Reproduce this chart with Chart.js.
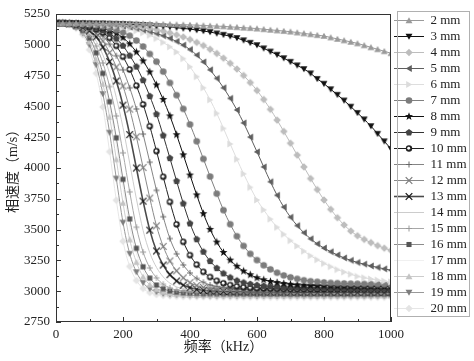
<!DOCTYPE html>
<html>
<head>
<meta charset="utf-8">
<script src="https://cdn.jsdelivr.net/npm/chart.js@4.4.0/dist/chart.umd.min.js"></script>
<style>
  html, body { margin: 0; padding: 0; background: #fff; }
</style>
</head>
<body>
<canvas id="myChart" width="474" height="361"></canvas>
<script>
// frequency (kHz), one sample every 20 kHz
var freq = [0,20,40,60,80,100,120,140,160,180,200,220,240,260,280,300,320,340,360,380,400,420,440,460,480,500,520,540,560,580,600,620,640,660,680,700,720,740,760,780,800,820,840,860,880,900,920,940,960,980,1000];

// phase velocity (m/s) per plate thickness
var v2 = [5175,5175,5175,5175,5175,5174,5174,5173,5173,5172,5172,5171,5170,5170,5169,5168,5166,5165,5163,5162,5160,5158,5155,5153,5150,5148,5144,5141,5137,5134,5130,5125,5120,5115,5110,5105,5098,5091,5084,5077,5070,5058,5046,5034,5022,5010,4994,4978,4962,4946,4930];
var v3 = [5175,5175,5175,5175,5174,5173,5172,5172,5170,5169,5168,5165,5162,5160,5157,5152,5148,5144,5138,5131,5126,5118,5110,5102,5091,5080,5068,5054,5035,5015,4996,4970,4944,4918,4890,4861,4832,4802,4767,4722,4683,4638,4593,4547,4497,4446,4394,4339,4277,4216,4154];
var v4 = [5175,5175,5175,5174,5173,5172,5170,5168,5165,5162,5158,5153,5147,5140,5132,5122,5110,5096,5080,5062,5042,5018,4992,4962,4928,4890,4848,4802,4750,4692,4628,4555,4475,4388,4296,4200,4104,4008,3914,3824,3740,3664,3596,3537,3488,3450,3420,3394,3370,3349,3330];
var v5 = [5175,5175,5174,5174,5172,5170,5167,5163,5159,5155,5150,5142,5132,5120,5106,5090,5072,5051,5026,4996,4960,4915,4860,4796,4726,4650,4564,4470,4365,4250,4130,4008,3888,3778,3682,3600,3532,3474,3425,3384,3350,3320,3294,3270,3250,3233,3219,3205,3193,3181,3170];
var v6 = [5175,5175,5174,5173,5171,5168,5164,5160,5155,5148,5140,5128,5113,5096,5075,5050,5018,4982,4940,4886,4820,4740,4650,4552,4442,4320,4194,4070,3952,3842,3740,3660,3584,3518,3461,3410,3366,3324,3287,3255,3225,3199,3175,3155,3137,3120,3109,3099,3090,3082,3075];
var v7 = [5175,5175,5173,5172,5168,5164,5157,5147,5134,5119,5099,5072,5033,4985,4924,4862,4781,4690,4590,4479,4353,4216,4073,3930,3791,3657,3543,3446,3367,3303,3252,3210,3177,3150,3128,3112,3100,3089,3081,3076,3071,3067,3065,3063,3061,3060,3059,3058,3057,3056,3055];
var v8 = [5175,5175,5173,5170,5165,5158,5148,5134,5116,5091,5056,5006,4940,4868,4778,4673,4555,4422,4269,4106,3942,3781,3629,3501,3398,3314,3252,3202,3163,3133,3108,3092,3079,3070,3062,3056,3052,3049,3047,3046,3044,3043,3042,3041,3040,3039,3039,3038,3038,3037,3037];
var v9 = [5175,5174,5172,5169,5162,5153,5137,5118,5091,5049,4991,4911,4822,4711,4582,4436,4263,4079,3893,3711,3549,3421,3320,3244,3187,3144,3111,3086,3070,3058,3049,3043,3039,3036,3033,3032,3030,3029,3028,3027,3026,3026,3025,3025,3024,3024,3023,3023,3023,3022,3022];
var v10 = [5175,5174,5172,5167,5158,5144,5125,5097,5054,4990,4902,4798,4667,4515,4338,4136,3928,3724,3542,3400,3292,3215,3157,3115,3084,3064,3050,3039,3032,3027,3024,3022,3020,3019,3017,3016,3016,3015,3015,3014,3014,3013,3013,3013,3012,3012,3012,3011,3011,3011,3010];
var v11 = [5175,5174,5171,5165,5153,5135,5109,5069,5003,4910,4796,4650,4478,4274,4046,3818,3604,3427,3303,3213,3148,3103,3072,3051,3038,3028,3022,3018,3014,3012,3011,3009,3008,3008,3007,3007,3006,3006,3005,3005,3005,3004,3004,3004,3003,3003,3003,3003,3002,3002,3002];
var v12 = [5175,5174,5170,5162,5147,5125,5090,5029,4935,4818,4664,4477,4252,4003,3755,3530,3363,3245,3165,3108,3069,3046,3030,3020,3013,3008,3006,3003,3002,3000,3000,2999,2999,2999,2998,2998,2998,2997,2997,2997,2997,2996,2996,2996,2996,2996,2995,2995,2995,2995,2995];
var v13 = [5175,5174,5169,5159,5140,5112,5063,4980,4862,4705,4509,4270,3999,3730,3495,3326,3212,3134,3083,3049,3029,3015,3007,3002,3000,2997,2996,2995,2995,2994,2994,2994,2993,2993,2993,2993,2992,2992,2992,2992,2992,2991,2991,2991,2991,2991,2991,2990,2990,2990,2990];
var v14 = [5175,5173,5168,5156,5133,5096,5028,4916,4768,4572,4327,4039,3749,3493,3311,3193,3116,3065,3035,3017,3006,3000,2996,2994,2992,2990,2990,2989,2989,2988,2988,2988,2987,2987,2987,2987,2986,2986,2986,2986,2986,2986,2986,2985,2985,2985,2985,2985,2985,2985,2985];
var v15 = [5175,5173,5167,5152,5124,5078,4988,4851,4660,4422,4122,3806,3519,3317,3189,3108,3056,3027,3009,3000,2994,2991,2989,2987,2985,2985,2984,2984,2984,2983,2983,2983,2982,2982,2982,2982,2981,2981,2981,2981,2981,2981,2980,2980,2980,2980,2980,2980,2980,2980,2980];
var v16 = [5175,5173,5165,5147,5114,5053,4934,4767,4537,4244,3907,3586,3348,3198,3106,3050,3020,3002,2992,2987,2984,2982,2980,2980,2979,2979,2979,2978,2978,2978,2977,2977,2977,2977,2977,2976,2976,2976,2976,2976,2976,2976,2975,2975,2975,2975,2975,2975,2975,2975,2975];
var v17 = [5175,5173,5165,5146,5111,5043,4916,4740,4496,4187,3842,3524,3303,3167,3085,3036,3009,2994,2986,2982,2979,2976,2975,2975,2974,2974,2973,2973,2973,2972,2972,2972,2972,2971,2971,2971,2971,2971,2971,2970,2970,2970,2970,2970,2970,2970,2970,2970,2970,2970,2970];
var v18 = [5175,5173,5164,5143,5103,5024,4883,4681,4413,4069,3715,3419,3235,3117,3052,3015,2994,2983,2978,2975,2972,2970,2970,2969,2969,2968,2968,2968,2967,2967,2967,2967,2966,2966,2966,2966,2966,2966,2965,2965,2965,2965,2965,2965,2965,2965,2965,2965,2965,2965,2965];
var v19 = [5175,5173,5163,5138,5092,4997,4835,4599,4286,3914,3557,3304,3155,3068,3020,2994,2980,2974,2970,2968,2966,2964,2964,2963,2963,2963,2962,2962,2962,2962,2961,2961,2961,2961,2961,2961,2961,2961,2960,2960,2960,2960,2960,2960,2960,2960,2960,2960,2960,2960,2960];
var v20 = [5175,5172,5161,5132,5080,4958,4767,4494,4132,3738,3405,3201,3087,3022,2989,2973,2965,2961,2958,2956,2955,2954,2953,2953,2952,2952,2952,2951,2951,2951,2951,2950,2950,2950,2950,2950,2950,2950,2950,2950,2950,2950,2950,2950,2950,2950,2950,2950,2950,2950,2950];

var seriesNames = ['2 mm','3 mm','4 mm','5 mm','6 mm','7 mm','8 mm','9 mm','10 mm','11 mm','12 mm','13 mm','14 mm','15 mm','16 mm','17 mm','18 mm','19 mm','20 mm'];
var seriesValues = [v2,v3,v4,v5,v6,v7,v8,v9,v10,v11,v12,v13,v14,v15,v16,v17,v18,v19,v20];

// look of each series: line colour/width and marker
var looks = [
  {line:'#9a9a9a', w:1,   shape:'up',      r:4,   fill:'#9a9a9a'},
  {line:'#111111', w:1,   shape:'down',    r:4,   fill:'#111111'},
  {line:'#bdbdbd', w:1,   shape:'diamond', r:3.8, fill:'#bdbdbd'},
  {line:'#5e5e5e', w:1,   shape:'left',    r:4,   fill:'#5e5e5e'},
  {line:'#dedede', w:1,   shape:'right',   r:4,   fill:'#dcdcdc'},
  {line:'#808080', w:1,   shape:'circle',  r:3.3, fill:'#7c7c7c'},
  {line:'#111111', w:1,   shape:'star',    r:4.2, fill:'#111111'},
  {line:'#333333', w:1,   shape:'pent',    r:3.6, fill:'#444444'},
  {line:'#222222', w:1,   shape:'ring',    r:3.2, fill:'#222222'},
  {line:'#666666', w:0.8, shape:'plus',    r:3,   fill:'#666666'},
  {line:'#8a8a8a', w:1,   shape:'x',       r:3.3, fill:'#7a7a7a'},
  {line:'#4a4a4a', w:1.6, shape:'x',       r:3.3, fill:'#111111'},
  {line:'#cccccc', w:1,   shape:'none',    r:0,   fill:'#cccccc'},
  {line:'#a8a8a8', w:1,   shape:'plus',    r:3,   fill:'#9a9a9a'},
  {line:'#8c8c8c', w:1,   shape:'square',  r:3.6, fill:'#555555'},
  {line:'#f0f0f0', w:1,   shape:'none',    r:0,   fill:'#f0f0f0'},
  {line:'#cccccc', w:1,   shape:'up',      r:4,   fill:'#c4c4c4'},
  {line:'#999999', w:1,   shape:'down',    r:4,   fill:'#7e7e7e'},
  {line:'#e6e6e6', w:1,   shape:'diamond', r:3.8, fill:'#e4e4e4'}
];

function poly(g, x, y, r, n, rot) {
  for (var k = 0; k < n; k++) {
    var a = rot + k * 2 * Math.PI / n;
    var px = x + r * Math.cos(a), py = y + r * Math.sin(a);
    if (k) g.lineTo(px, py); else g.moveTo(px, py);
  }
  g.closePath();
}

function drawMarker(g, m, x, y) {
  var r = m.r;
  g.fillStyle = m.fill;
  g.strokeStyle = m.fill;
  g.lineWidth = 1;
  g.beginPath();
  switch (m.shape) {
    case 'up': poly(g, x, y + r * 0.2, r, 3, -Math.PI / 2); g.fill(); break;
    case 'down': poly(g, x, y - r * 0.2, r, 3, Math.PI / 2); g.fill(); break;
    case 'left': poly(g, x + r * 0.2, y, r, 3, Math.PI); g.fill(); break;
    case 'right': poly(g, x - r * 0.2, y, r, 3, 0); g.fill(); break;
    case 'diamond': poly(g, x, y, r, 4, -Math.PI / 2); g.fill(); break;
    case 'square': poly(g, x, y, r, 4, Math.PI / 4); g.fill(); break;
    case 'pent': poly(g, x, y, r, 5, -Math.PI / 2); g.fill(); break;
    case 'circle': g.arc(x, y, r, 0, 2 * Math.PI); g.fill(); break;
    case 'ring':
      g.arc(x, y, r, 0, 2 * Math.PI); g.fill();
      g.beginPath(); g.fillStyle = '#fff'; g.arc(x - 0.3, y - 0.3, r * 0.45, 0, 2 * Math.PI); g.fill();
      break;
    case 'star':
      for (var k = 0; k < 10; k++) {
        var a = -Math.PI / 2 + k * Math.PI / 5, rr = k % 2 ? r * 0.42 : r;
        if (k) g.lineTo(x + rr * Math.cos(a), y + rr * Math.sin(a)); else g.moveTo(x + rr * Math.cos(a), y + rr * Math.sin(a));
      }
      g.closePath(); g.fill(); break;
    case 'plus':
      g.moveTo(x - r, y); g.lineTo(x + r, y); g.moveTo(x, y - r); g.lineTo(x, y + r); g.stroke(); break;
    case 'x':
      g.lineWidth = 1.2;
      g.moveTo(x - r, y - r); g.lineTo(x + r, y + r); g.moveTo(x + r, y - r); g.lineTo(x - r, y + r); g.stroke(); break;
  }
}

function markerImage(m) {
  var s = Math.ceil(m.r * 2 + 4);
  var c = document.createElement('canvas');
  c.width = s; c.height = s;
  drawMarker(c.getContext('2d'), m, s / 2, s / 2);
  return c;
}

function legendImage(m) {
  var c = document.createElement('canvas');
  c.width = 30; c.height = 13;
  var g = c.getContext('2d');
  g.strokeStyle = m.line; g.lineWidth = m.w;
  g.beginPath(); g.moveTo(0, 6.5); g.lineTo(30, 6.5); g.stroke();
  if (m.shape !== 'none') drawMarker(g, m, 15, 6.5);
  return c;
}

var legendIcons = looks.map(legendImage);

var datasets = seriesNames.map(function (name, i) {
  var m = looks[i];
  return {
    label: name,
    data: freq.map(function (f, k) { return {x: f, y: seriesValues[i][k]}; }),
    borderColor: m.line,
    borderWidth: m.w,
    backgroundColor: m.fill,
    pointStyle: m.shape === 'none' ? 'circle' : markerImage(m),
    pointRadius: m.shape === 'none' ? 0 : 3,
    pointHoverRadius: 0,
    fill: false,
    cubicInterpolationMode: 'monotone'
  };
});

var serif = "'Liberation Serif', 'Noto Sans CJK SC', serif";

var framePlugin = {
  id: 'frame',
  afterDraw: function (chart) {
    var ctx = chart.ctx, a = chart.chartArea, xs = chart.scales.x, ys = chart.scales.y;
    ctx.save();
    ctx.strokeStyle = '#333';
    ctx.lineWidth = 1;
    ctx.strokeRect(Math.round(a.left) + 0.5, Math.round(a.top) + 0.5, Math.round(a.right - a.left) - 1, Math.round(a.bottom - a.top) - 1);
    ctx.beginPath();
    xs.ticks.forEach(function (t) {
      var px = Math.round(xs.getPixelForValue(t.value)) + 0.5;
      var len = t.value % 200 === 0 ? 5 : 3;
      ctx.moveTo(px, a.bottom); ctx.lineTo(px, a.bottom - len);
    });
    ys.ticks.forEach(function (t) {
      var py = Math.round(ys.getPixelForValue(t.value)) + 0.5;
      var len = t.value % 250 === 0 ? 5 : 3;
      ctx.moveTo(a.left, py); ctx.lineTo(a.left + len, py);
    });
    ctx.stroke();
    // box round the legend
    var lg = chart.legend;
    ctx.strokeStyle = '#b0b0b0';
    ctx.strokeRect(Math.round(lg.left) + 6.5, Math.round(a.top) - 2.5, Math.round(lg.right - lg.left) - 11, Math.round(a.bottom - a.top) - 3);
    ctx.restore();
  }
};

new Chart(document.getElementById('myChart'), {
  type: 'line',
  data: { datasets: datasets },
  options: {
    responsive: false,
    animation: false,
    devicePixelRatio: 1,
    layout: { padding: { top: 11, right: 0, bottom: 0, left: 0 } },
    plugins: {
      tooltip: { enabled: false },
      legend: {
        position: 'right',
        align: 'start',
        maxWidth: 83,
        labels: {
          usePointStyle: true,
          pointStyleWidth: 30,
          padding: 3,
          color: '#222',
          font: { family: serif, size: 13 },
          generateLabels: function (chart) {
            return chart.data.datasets.map(function (ds, i) {
              return { text: ds.label, pointStyle: legendIcons[i], fillStyle: 'transparent', strokeStyle: 'transparent', lineWidth: 0, hidden: false, datasetIndex: i, fontColor: '#222' };
            });
          }
        }
      }
    },
    scales: {
      x: {
        type: 'linear',
        min: 0, max: 1000,
        afterFit: function (s) { s.height = 39; },
        grid: { display: false, drawTicks: false },
        border: { display: false },
        ticks: {
          stepSize: 100, autoSkip: false, maxRotation: 0, padding: 5,
          color: '#222', font: { family: serif, size: 13 },
          callback: function (v) { return v % 200 === 0 ? v : ''; }
        },
        title: { display: true, text: '频率（kHz）', color: '#222', font: { family: serif, size: 14 }, padding: { top: 0, bottom: 5 } }
      },
      y: {
        min: 2750, max: 5250,
        afterFit: function (s) { s.width = 56; },
        grid: { display: false, drawTicks: false },
        border: { display: false },
        ticks: {
          stepSize: 125, autoSkip: false, padding: 6,
          color: '#222', font: { family: serif, size: 13 },
          callback: function (v) { return v % 250 === 0 ? v : ''; }
        },
        title: { display: true, text: '相速度（m/s）', color: '#222', font: { family: serif, size: 14 }, padding: { top: 5, bottom: 0 } }
      }
    }
  },
  plugins: [framePlugin]
});
</script>
</body>
</html>
